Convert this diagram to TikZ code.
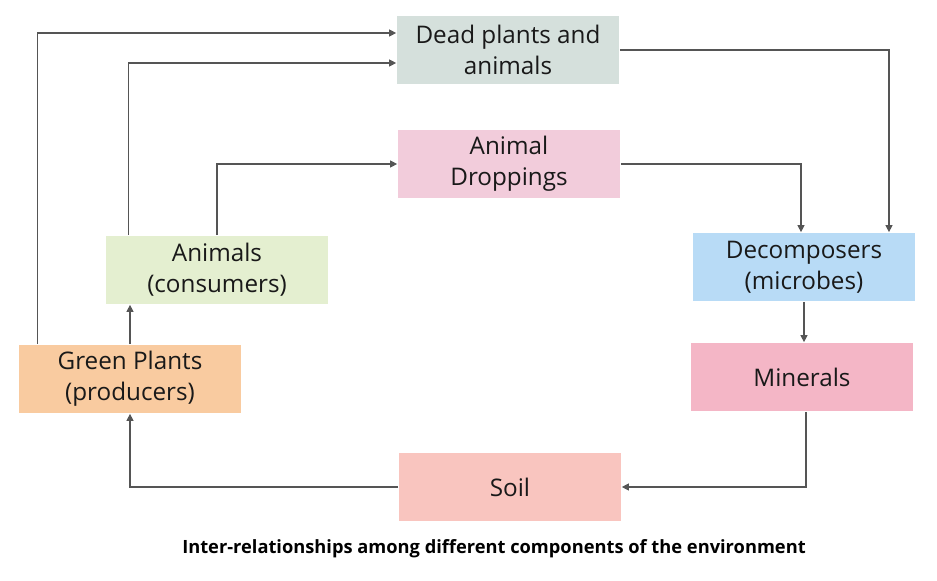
\documentclass[tikz,border=0pt]{standalone}
\usepackage{fontspec}
\setmainfont{Open Sans}
\usetikzlibrary{arrows.meta}
\definecolor{deadcol}{HTML}{D5E0DC}
\definecolor{dropcol}{HTML}{F2CCDB}
\definecolor{animcol}{HTML}{E4EFD0}
\definecolor{plantcol}{HTML}{F9CBA0}
\definecolor{decocol}{HTML}{B8DBF6}
\definecolor{minecol}{HTML}{F4B6C6}
\definecolor{soilcol}{HTML}{F9C5BF}
\definecolor{linecol}{HTML}{555555}
\tikzset{
    comp/.style={minimum width=4.46cm,minimum height=1.38cm,inner sep=0pt,align=center,
        font=\fontsize{13.8}{17.5}\selectfont,text=black!90},
    link/.style={draw=linecol,line width=0.6pt,-{Triangle[length=4pt,width=4pt]}}
}
\begin{document}
\begin{tikzpicture}[x=0.02cm,y=-0.02cm]
            \useasboundingbox (0,0) rectangle (937,581);
            \node[comp,fill=deadcol] (dead) at (508,50) {Dead plants and\\animals};
            \node[comp,fill=dropcol] (drop) at (509,164) {Animal\\Droppings};
            \node[comp,fill=animcol] (anim) at (217,270) {Animals\\(consumers)};
            \node[comp,fill=plantcol] (plant) at (130,379) {Green Plants\\(producers)};
            \node[comp,fill=decocol] (deco) at (804,267) {Decomposers\\(microbes)};
            \node[comp,fill=minecol] (mine) at (802,377) {Minerals};
            \node[comp,fill=soilcol] (soil) at (510,487) {Soil};
            \node[font=\bfseries\fontsize{10.4}{12}\selectfont] (cap) at (494,549)
                {Inter-relationships among different components of the environment};

            \draw[link] ([xshift=0.38cm]plant.north west) |- ([yshift=0.34cm]dead.west);
            \draw[link] ([xshift=0.46cm]anim.north west) |- ([yshift=-0.26cm]dead.west);
            \draw[link] (anim.north) |- (drop.west);
            \draw[link] (dead.east) -| ([xshift=1.7cm]deco.north);
            \draw[link] (drop.east) -| ([xshift=-0.06cm]deco.north);
            \draw[link] (deco.south) -- (deco.south |- mine.north);
            \draw[link] ([xshift=0.08cm]mine.south) |- (soil.east);
            \draw[link] (soil.west) -| (plant.south);
            \draw[link] (plant.north) -- (plant.north |- anim.south);
        \end{tikzpicture}
\end{document}
